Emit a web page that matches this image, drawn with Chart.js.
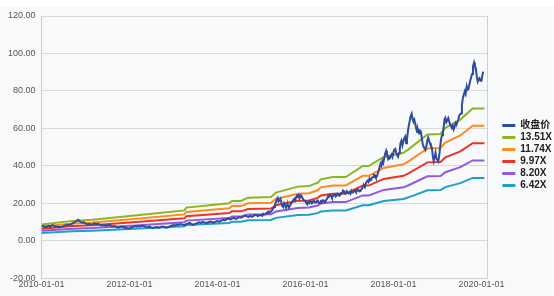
<!DOCTYPE html>
<html>
<head>
<meta charset="utf-8">
<script src="https://cdn.jsdelivr.net/npm/chart.js@4.4.1/dist/chart.umd.min.js"></script>
<style>
html, body { margin: 0; padding: 0; background: #fff; }
#wrap { width: 554px; height: 296px; background: linear-gradient(#fff 0, #fff 7px, #f8f9fb 7px); }
</style>
</head>
<body>
<div id="wrap"><canvas id="myChart" width="554" height="296"></canvas></div>
<script>
// EPS curve (read from the 13.51X band, divided by 13.51)
const epsDates = ['2010-01-01', '2010-09-18', '2011-03-01', '2012-03-25', '2013-04-01', '2013-04-17',
    '2014-04-08', '2014-05-01', '2014-07-15', '2014-09-12', '2015-03-21', '2015-05-01', '2015-10-30',
    '2016-01-30', '2016-04-12', '2016-05-08', '2016-08-16', '2016-12-01', '2017-04-21', '2017-06-10',
    '2017-10-12', '2018-03-26', '2018-05-06', '2018-10-10', '2019-01-26', '2019-03-08', '2019-07-10',
    '2019-10-20', '2020-01-26'];
const epsValues = [0.644, 0.785, 0.829, 1.014, 1.199, 1.310,
    1.480, 1.575, 1.575, 1.702, 1.725, 1.902, 2.139,
    2.161, 2.295, 2.428, 2.517, 2.517, 2.953, 2.953,
    3.309, 3.479, 3.612, 4.197, 4.219, 4.463, 4.789,
    5.226, 5.226];

const multiples = [13.51, 11.74, 9.97, 8.20, 6.42];
const bandLabels = ['13.51X', '11.74X', '9.97X', '8.20X', '6.42X'];
const bandColors = ['#8db51e', '#ff8a1f', '#ec3422', '#9159e0', '#20a0c4'];

// closing price: 2010-2014 read twice a month (1st, 16th), 2015 on four times (1st, 8th, 16th, 23rd)
const close2010 = [7.4, 7.9, 7.2, 7.6, 8.0, 7.7, 8.3, 7.9, 7.3, 7.6, 7.1, 7.5, 7.8, 8.2, 8.6, 8.3, 8.8, 9.3, 9.8, 10.4, 11.2, 10.3, 9.6, 9.9];
const close2011 = [9.2, 8.7, 9.0, 8.6, 8.9, 9.3, 8.8, 9.1, 8.5, 8.2, 8.4, 8.0, 8.3, 8.6, 7.9, 7.6, 7.8, 7.3, 7.0, 7.4, 7.6, 7.2, 6.9, 6.7];
const close2012 = [6.6, 7.1, 7.4, 7.8, 7.5, 7.9, 7.6, 8.1, 7.8, 7.4, 7.2, 7.5, 7.0, 6.8, 7.1, 7.3, 6.9, 7.4, 7.6, 7.3, 7.0, 7.2, 7.6, 8.0];
const close2013 = [8.4, 8.2, 8.7, 8.5, 8.9, 8.6, 8.3, 8.8, 9.2, 9.5, 8.8, 8.5, 9.0, 9.4, 9.8, 9.5, 10.1, 9.7, 9.4, 9.9, 10.3, 10.0, 9.7, 10.2];
const close2014 = [10.5, 10.1, 10.8, 11.2, 10.9, 11.5, 11.9, 11.4, 11.8, 12.2, 11.7, 12.1, 12.6, 12.3, 12.9, 13.4, 13.0, 12.7, 13.3, 12.8, 13.5, 13.9, 13.2, 13.6];
const close2015 = [13.8, 13.3, 14.4, 14.0, 14.1, 14.6, 14.9, 15.3, 15.6, 14.9, 15.2, 15.9, 16.4, 17.2, 18.0, 19.4,
    20.6, 21.9, 22.8, 20.9, 21.5, 22.3, 20.2, 18.6, 18.0, 20.1, 19.3, 18.2, 18.6, 19.2, 17.6, 18.4,
    19.5, 20.3, 21.0, 21.8, 22.4, 21.6, 23.3, 24.1, 24.6, 23.4, 23.1, 24.4, 23.8, 22.7, 22.0, 21.2];
const close2016 = [21.2, 20.0, 19.4, 20.6, 20.1, 21.2, 20.8, 19.9, 20.3, 21.4, 21.1, 20.4, 20.5, 21.5, 21.0, 20.1,
    20.2, 21.1, 20.7, 21.6, 21.4, 20.6, 21.0, 22.0, 22.6, 23.9, 23.5, 24.5, 24.2, 23.1, 23.6, 24.7,
    24.8, 23.7, 24.1, 25.2, 25.0, 24.0, 24.4, 25.5, 25.6, 26.8, 26.3, 25.2, 25.4, 26.5, 26.0, 25.3];
const close2017 = [25.8, 25.1, 26.6, 25.7, 25.9, 27.0, 26.8, 26.1, 26.3, 27.4, 27.2, 26.4, 26.5, 27.3, 28.0, 28.9,
    29.4, 28.6, 30.6, 31.5, 32.1, 31.4, 33.2, 32.3, 32.7, 33.8, 34.0, 35.2, 35.0, 33.9, 34.3, 35.8,
    37.5, 39.4, 41.2, 40.1, 42.6, 41.5, 44.0, 46.3, 48.0, 46.2, 45.2, 43.6, 44.0, 45.3, 46.1, 44.8];
const close2018 = [47.2, 48.6, 49.0, 47.1, 45.6, 44.8, 46.8, 49.5, 52.3, 53.4, 51.0, 53.0, 54.8, 55.6, 52.1, 54.0,
    58.6, 61.5, 64.0, 66.3, 67.8, 65.2, 63.5, 64.6, 62.4, 60.1, 58.0, 59.3, 57.2, 58.9, 58.5, 55.4,
    51.5, 50.3, 49.2, 48.5, 50.5, 53.2, 55.0, 53.6, 52.0, 50.6, 49.8, 45.3, 42.6, 44.7, 47.0, 44.1];
const close2019 = [43.0, 42.3, 45.5, 49.8, 54.5, 56.3, 58.2, 61.5, 64.8, 65.6, 63.2, 64.1, 65.4, 63.8, 62.0, 61.3,
    60.2, 61.4, 59.5, 60.8, 62.8, 61.9, 63.4, 64.7, 66.8, 67.6, 68.0, 72.3, 76.5, 78.1, 79.8, 78.4,
    82.4, 80.6, 81.0, 83.5, 85.6, 87.4, 89.0, 93.1, 95.2, 93.3, 92.0, 88.0, 85.0, 86.2, 86.8, 85.5];
const close2020 = [85.4, 88.0, 90.3];

const xTickDates = ['2010-01-01', '2012-01-01', '2014-01-01', '2016-01-01', '2018-01-01', '2020-01-01'];
const xMin = '2010-01-01';
const xMax = '2020-02-19';

function ts(s) {
    const p = s.split('-').map(Number);
    return Date.UTC(p[0], p[1] - 1, p[2]);
}

function fmt(v) {
    const d = new Date(v);
    const mm = String(d.getUTCMonth() + 1).padStart(2, '0');
    const dd = String(d.getUTCDate()).padStart(2, '0');
    return d.getUTCFullYear() + '-' + mm + '-' + dd;
}

const closeByYear = [close2010, close2011, close2012, close2013, close2014, close2015,
    close2016, close2017, close2018, close2019, close2020];
const closePoints = [];
closeByYear.forEach((vals, yi) => {
    const days = yi < 5 ? [1, 16] : [1, 8, 16, 23];
    vals.forEach((v, i) => {
        const month = Math.floor(i / days.length);
        closePoints.push({ x: Date.UTC(2010 + yi, month, days[i % days.length]), y: v });
    });
});

const datasets = [{
    label: '收盘价',
    data: closePoints,
    borderColor: '#2f4b9c',
    backgroundColor: '#2f4b9c',
    borderWidth: 2
}];
multiples.forEach((m, k) => {
    datasets.push({
        label: bandLabels[k],
        data: epsDates.map((d, i) => ({ x: ts(d), y: epsValues[i] * m })),
        borderColor: bandColors[k],
        backgroundColor: bandColors[k],
        borderWidth: 2
    });
});

const frame = {
    id: 'frame',
    beforeDatasetsDraw(chart) {
        const a = chart.chartArea;
        const c = chart.ctx;
        c.save();
        c.strokeStyle = '#cfcfcf';
        c.lineWidth = 1;
        c.beginPath();
        c.moveTo(Math.round(a.right) + 0.5, a.top);
        c.lineTo(Math.round(a.right) + 0.5, a.bottom);
        c.stroke();
        c.restore();
    },
    afterLayout(chart) {
        const l = chart.legend;
        l.left += 13; l.right += 13;
        l.top += 2; l.bottom += 2;
    }
};

const tickFont = { family: "'Liberation Sans', Arial", size: 9 };

const ctx = document.getElementById('myChart').getContext('2d');
const myChart = new Chart(ctx, {
    type: 'line',
    data: { datasets: datasets },
    options: {
        responsive: false,
        animation: false,
        elements: { point: { radius: 0 }, line: { tension: 0 } },
        layout: { padding: { left: 2, top: 16, right: 5, bottom: 5 } },
        plugins: {
            tooltip: { enabled: false },
            legend: {
                position: 'right',
                labels: {
                    boxWidth: 13,
                    boxHeight: 3,
                    padding: 2,
                    color: '#222',
                    font: { family: "'Liberation Sans', 'Noto Sans CJK SC'", size: 10, weight: 'bold' },
                    generateLabels(chart) {
                        const items = Chart.defaults.plugins.legend.labels.generateLabels(chart);
                        items.forEach(it => { it.lineWidth = 0; });
                        return items;
                    }
                }
            }
        },
        scales: {
            x: {
                type: 'linear',
                min: ts(xMin),
                max: ts(xMax),
                afterBuildTicks(scale) {
                    scale.ticks = xTickDates.map(d => ({ value: ts(d) }));
                },
                grid: { display: false, drawTicks: false },
                border: { color: '#cfcfcf' },
                ticks: {
                    autoSkip: false,
                    maxRotation: 0,
                    padding: 1,
                    color: '#555',
                    font: tickFont,
                    callback: v => fmt(v)
                }
            },
            y: {
                min: -20,
                max: 120,
                grid: { color: '#dadada', drawTicks: false },
                border: { color: '#cfcfcf' },
                ticks: {
                    stepSize: 20,
                    padding: 6,
                    color: '#555',
                    font: tickFont,
                    callback: v => v.toFixed(2)
                }
            }
        }
    },
    plugins: [frame]
});
</script>
</body>
</html>
